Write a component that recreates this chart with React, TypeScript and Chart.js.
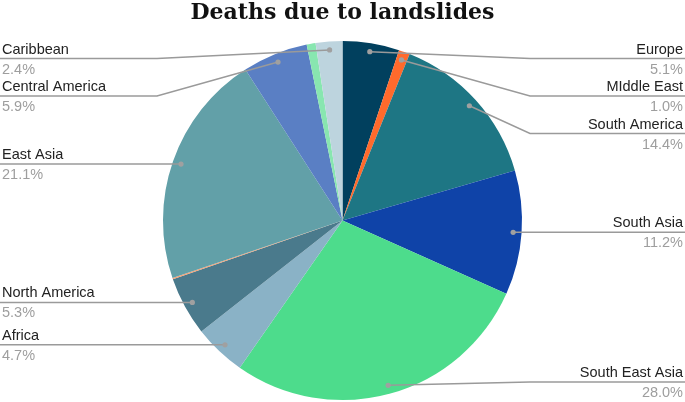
import React, { useEffect, useRef } from "react";
import { Chart, registerables } from "chart.js";

Chart.register(...registerables);

const chartTitle = "Deaths due to landslides";
const categories = [
  "Europe",
  "MIddle East",
  "South America",
  "South Asia",
  "South East Asia",
  "Africa",
  "North America",
  "Oceania",
  "East Asia",
  "Central America",
  "Other",
  "Caribbean",
];
const values = [5.1, 1.0, 14.4, 11.2, 28.0, 4.7, 5.3, 0.1, 21.1, 5.9, 0.8, 2.4];
const colors = [
  "#01405e",
  "#ff6a2c",
  "#1e7684",
  "#0f43a8",
  "#4ddc8c",
  "#8ab2c6",
  "#4a7a8c",
  "#f7a072",
  "#62a0a8",
  "#5a7fc4",
  "#88e6b0",
  "#bdd4de",
];
const MIN_LABEL_PCT = 0.95;

const labelPlugin = {
  id: "sideLabels",
  afterDraw(chart: any) {
    const ctx: CanvasRenderingContext2D = chart.ctx;
    const W = chart.width;
    const H = chart.height;
    ctx.save();
    // title
    ctx.font = 'bold 22px "DejaVu Serif"';
    ctx.fillStyle = "#111111";
    ctx.textAlign = "center";
    ctx.textBaseline = "alphabetic";
    ctx.fillText(chartTitle, W / 2, 19);

    const meta = chart.getDatasetMeta(0);
    const total = values.reduce((a, b) => a + b, 0);
    const items: any[] = [];
    meta.data.forEach((arc: any, i: number) => {
      const pct = (values[i] / total) * 100;
      if (pct < MIN_LABEL_PCT) return;
      const p = arc.getProps(["x", "y", "startAngle", "endAngle", "outerRadius"], true);
      const mid = (p.startAngle + p.endAngle) / 2;
      const r = p.outerRadius * 0.953;
      items.push({
        i,
        pct,
        dx: p.x + Math.cos(mid) * r,
        dy: p.y + Math.sin(mid) * r,
        right: Math.cos(mid) >= 0,
        cx: p.x,
        R: p.outerRadius,
      });
    });

    const layout = (side: any[]) => {
      side.sort((a, b) => a.dy - b.dy);
      let prev = -Infinity;
      for (const it of side) {
        let ly = Math.max(it.dy, prev + 37.5, 58.5);
        ly = Math.min(ly, H - 20);
        it.ly = ly;
        prev = ly;
      }
    };
    const rightItems = items.filter((d) => d.right);
    const leftItems = items.filter((d) => !d.right);
    layout(rightItems);
    layout(leftItems);

    ctx.lineWidth = 1.5;
    ctx.strokeStyle = "#9a9a9a";
    for (const it of items) {
      const bendX = it.right ? it.cx + it.R + 8 : it.cx - it.R - 6;
      ctx.beginPath();
      ctx.moveTo(it.dx, it.dy);
      ctx.lineTo(bendX, it.ly);
      ctx.lineTo(it.right ? W : 0, it.ly);
      ctx.stroke();
      ctx.fillStyle = "#a0a0a0";
      ctx.beginPath();
      ctx.arc(it.dx, it.dy, 2.6, 0, Math.PI * 2);
      ctx.fill();

      ctx.font = '14.5px "Liberation Sans", Arial, sans-serif';
      ctx.textAlign = it.right ? "right" : "left";
      const tx = it.right ? W - 2 : 2;
      ctx.fillStyle = "#222222";
      ctx.fillText(categories[it.i], tx, it.ly - 5);
      ctx.fillStyle = "#9e9e9e";
      ctx.fillText(it.pct.toFixed(1) + "%", tx, it.ly + 15);
    }
    ctx.restore();
  },
};

export default function App() {
  const ref = useRef<HTMLCanvasElement>(null);
  useEffect(() => {
    if (!ref.current) return;
    const chart = new Chart(ref.current, {
      type: "pie",
      data: {
        labels: categories,
        datasets: [
          {
            data: values,
            backgroundColor: colors,
            borderWidth: 0,
            hoverOffset: 0,
          },
        ],
      },
      options: {
        responsive: false,
        animation: false,
        layout: { padding: { top: 41, bottom: 2, left: 0, right: 0 } },
        plugins: {
          legend: { display: false },
          tooltip: { enabled: false },
          title: { display: false },
        },
      },
      plugins: [labelPlugin],
    });
    return () => chart.destroy();
  }, []);
  return (
    <div style={{ position: "fixed", left: 0, top: 0, width: 685, height: 402, background: "#ffffff" }}>
      <canvas ref={ref} width={685} height={402} />
    </div>
  );
}
